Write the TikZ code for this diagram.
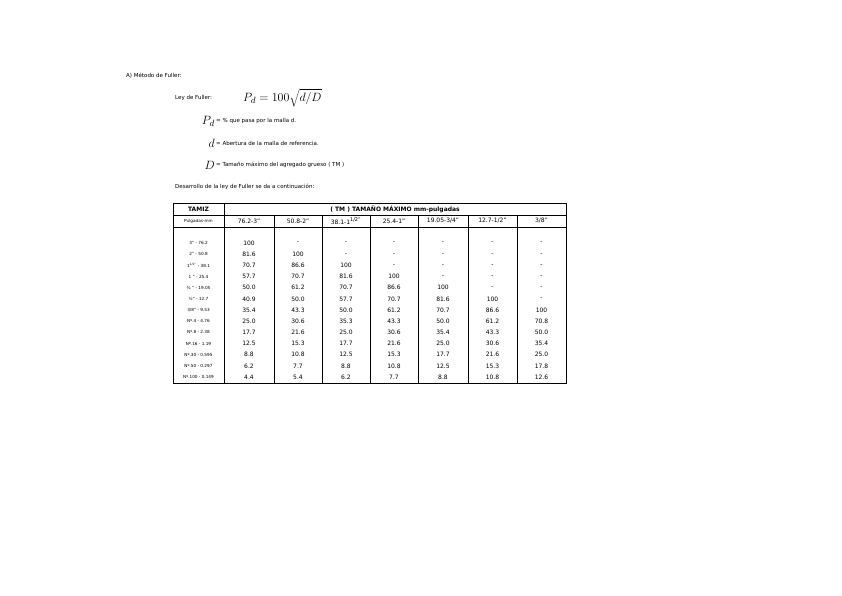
\documentclass[tikz,border=0pt]{standalone}
\usepackage{fontspec}
\setmainfont{DejaVu Sans}
\newfontfamily\serifm{Liberation Serif}
\begin{document}
\begin{tikzpicture}[x=1pt,y=-1pt,
 lbl/.style={anchor=west,inner sep=0,font=\fontsize{5.5}{6}\selectfont},
 val/.style={inner sep=0,font=\fontsize{6}{7}\selectfont},
 sm/.style={inner sep=0,font=\fontsize{4.2}{5}\selectfont},
 thick/.style={line width=1pt}]
\useasboundingbox (0,0) rectangle (842,595);
\node[lbl] (t1) at (126,76) {A) Método de Fuller:};
\node[lbl] (t2) at (175,98) {Ley de Fuller:};
\node[anchor=west,inner sep=0,font=\serifm\fontsize{13}{14}\selectfont] (f) at (243,98) {$P_d=100\sqrt{d/D}$};
\node[anchor=east,inner sep=0,font=\serifm\fontsize{13}{14}\selectfont] (s1) at (215,121) {$P_d$};
\node[lbl] (e1) at (216,121) {= \% que pasa por la malla d.};
\node[anchor=east,inner sep=0,font=\serifm\fontsize{13}{14}\selectfont] (s2) at (215,143) {$d$};
\node[lbl] (e2) at (216,143) {= Abertura de la malla de referencia.};
\node[anchor=east,inner sep=0,font=\serifm\fontsize{13}{14}\selectfont] (s3) at (215,165) {$D$};
\node[lbl] (e3) at (216,165) {= Tamaño máximo del agregado grueso ( TM )};
\node[lbl] (t3) at (175,187) {Desarrollo de la ley de Fuller se da a continuación:};
% table
\def\xs{{173,224,274,322,370,418,468,517,566}}
\draw[line width=0.5pt] (173,215) -- (566,215);
\draw[line width=0.5pt] (173,227) -- (566,227);
\foreach \x in {274,322,370,418,468,517} \draw[line width=0.5pt] (\x,215) -- (\x,383);
\draw[line width=1pt] (224,203) -- (224,383);
\draw[line width=1pt] (173,203) rectangle (566,383);
\node[val,font=\bfseries\fontsize{6}{7}\selectfont] (h1) at (198.5,209) {TAMIZ};
\node[val,font=\bfseries\fontsize{6}{7}\selectfont] (h2) at (395,209) {( TM ) TAMAÑO MÁXIMO mm-pulgadas};
\node[sm] (h3) at (198.5,221) {Pulgadas-mm};
\foreach \t [count=\i] in {76.2-3",50.8-2",{38.1-1\textsuperscript{1/2"}},25.4-1",19.05-3/4",12.7-1/2",3/8"}{
  \pgfmathsetmacro\xa{\xs[\i]}\pgfmathsetmacro\xb{\xs[\i+1]}
  \node[val] (hc\i) at ({(\xa+\xb)/2},221) {\t};}
\foreach \r [count=\j] in {3" - 76.2,2" - 50.8,{1\textsuperscript{1/2"} - 38.1},1 " - 25.4,¾ " - 19.05,½" - 12.7,3/8" - 9.53,Nº.4 - 4.76,Nº.8 - 2.38,Nº.16 - 1.19,Nº.30 - 0.595,Nº.50 - 0.297,Nº.100 - 0.149}
  \node[sm] (r\j) at (198.5,{243+(\j-1)*11.17}) {\r};
\foreach \row [count=\j] in {
 {100,-,-,-,-,-,-},{81.6,100,-,-,-,-,-},{70.7,86.6,100,-,-,-,-},{57.7,70.7,81.6,100,-,-,-},
 {50.0,61.2,70.7,86.6,100,-,-},{40.9,50.0,57.7,70.7,81.6,100,-},{35.4,43.3,50.0,61.2,70.7,86.6,100},
 {25.0,30.6,35.3,43.3,50.0,61.2,70.8},{17.7,21.6,25.0,30.6,35.4,43.3,50.0},{12.5,15.3,17.7,21.6,25.0,30.6,35.4},
 {8.8,10.8,12.5,15.3,17.7,21.6,25.0},{6.2,7.7,8.8,10.8,12.5,15.3,17.8},{4.4,5.4,6.2,7.7,8.8,10.8,12.6}}{
  \foreach \v [count=\i] in \row {
   \pgfmathsetmacro\xa{\xs[\i]}\pgfmathsetmacro\xb{\xs[\i+1]}
   \node[val] (c\j-\i) at ({(\xa+\xb)/2},{243+(\j-1)*11.17}) {\v};}}
\end{tikzpicture}
\end{document}
